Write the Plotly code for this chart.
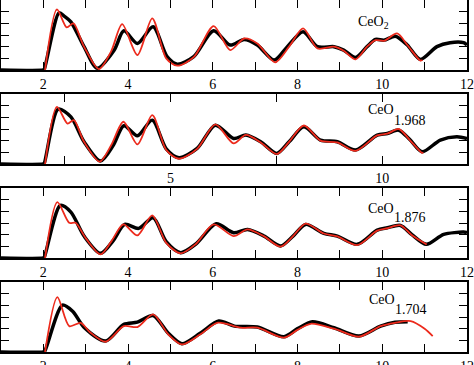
import plotly.graph_objects as go

# ---- data ----
p1_black_x = [1.0, 2.0, 2.02, 2.37, 2.5, 2.65, 2.96, 3.27, 3.67, 3.90, 4.22, 4.59, 4.92, 5.16, 5.55, 6.02, 6.41, 6.74, 7.05, 7.45, 7.76, 8.13, 8.47, 8.86, 9.09, 9.37, 9.64, 9.84, 10.04, 10.31, 10.59, 10.90, 11.29, 11.6, 11.92, 12.0]
p1_black_y = [0, 0, 0.05, 4.9, 4.6, 4.13, 2.0, 0.15, 1.7, 3.36, 2.28, 3.7, 1.14, 0.49, 1.14, 3.36, 2.14, 2.62, 2.14, 0.85, 2.0, 3.28, 2.0, 2.0, 1.71, 1.08, 2.0, 2.62, 2.56, 2.9, 2.14, 0.91, 2.0, 2.34, 2.34, 2.14]
p1_red_x = [2.04, 2.32, 2.55, 2.71, 2.96, 3.31, 3.6, 3.86, 4.22, 4.57, 4.9, 5.16, 5.55, 6.02, 6.41, 6.74, 7.05, 7.47, 7.8, 8.13, 8.47, 8.86, 9.09, 9.37, 9.64, 9.84, 10.04, 10.35, 10.6, 10.9, 10.95]
p1_red_y = [0, 5.2, 3.65, 3.99, 2.0, 0.08, 1.6, 3.93, 1.28, 4.42, 1.0, 0.37, 1.1, 3.76, 1.71, 2.7, 2.28, 0.66, 2.0, 3.56, 1.85, 2.0, 1.65, 0.91, 2.0, 2.56, 2.5, 3.13, 2.1, 0.8, 0.85]

p2_black_x = [1.0, 2.0, 2.02, 2.35, 2.65, 2.96, 3.35, 3.65, 3.90, 4.22, 4.57, 4.9, 5.20, 5.63, 6.06, 6.49, 6.78, 7.13, 7.51, 7.8, 8.15, 8.54, 8.94, 9.37, 9.88, 10.12, 10.39, 10.65, 10.94, 11.37, 11.76, 12.0]
p2_black_y = [0, 0, 0.05, 4.7, 4.04, 1.91, 0.26, 1.6, 3.28, 2.42, 3.76, 1.3, 0.54, 1.34, 3.33, 2.19, 2.48, 1.91, 0.91, 1.9, 3.19, 2.05, 1.91, 1.2, 2.48, 2.62, 2.9, 2.1, 1.05, 2.05, 2.33, 2.19]
p2_red_x = [2.04, 2.32, 2.57, 2.72, 2.96, 3.33, 3.6, 3.89, 4.22, 4.57, 4.9, 5.2, 5.63, 6.06, 6.49, 6.78, 7.13, 7.51, 7.8, 8.15, 8.54, 8.94, 9.37, 9.88, 10.12, 10.39, 10.65, 10.94, 10.97]
p2_red_y = [0, 4.9, 3.47, 3.76, 1.9, 0.2, 1.6, 3.62, 1.68, 4.19, 1.2, 0.45, 1.3, 3.39, 1.77, 2.5, 1.85, 0.85, 1.9, 3.3, 2.0, 1.85, 1.12, 2.45, 2.6, 3.0, 2.05, 0.95, 1.0]

p3_black_x = [1.0, 2.0, 2.02, 2.40, 2.65, 2.96, 3.35, 3.65, 3.92, 4.25, 4.59, 4.9, 5.24, 5.6, 6.08, 6.49, 6.82, 7.21, 7.6, 7.9, 8.19, 8.62, 8.94, 9.41, 9.88, 10.12, 10.43, 10.7, 11.04, 11.45, 11.92, 12.0]
p3_black_y = [0, 0, 0.05, 4.5, 3.93, 1.88, 0.4, 1.5, 2.88, 2.54, 3.45, 1.4, 0.46, 1.2, 2.93, 2.17, 2.45, 1.88, 1.03, 1.9, 2.88, 2.11, 1.88, 1.17, 2.39, 2.59, 2.79, 2.0, 1.17, 2.02, 2.22, 2.17]
p3_red_x = [2.04, 2.33, 2.61, 2.76, 3.0, 3.35, 3.6, 3.89, 4.22, 4.57, 4.9, 5.24, 5.6, 6.02, 6.49, 6.82, 7.21, 7.6, 7.9, 8.19, 8.62, 8.94, 9.41, 9.88, 10.12, 10.43, 10.7, 11.05]
p3_red_y = [0, 4.79, 3.02, 3.02, 1.7, 0.31, 1.4, 2.88, 1.94, 3.65, 1.3, 0.4, 1.2, 2.88, 1.88, 2.45, 1.85, 0.97, 1.9, 2.95, 2.1, 1.85, 1.1, 2.35, 2.55, 2.8, 1.95, 1.15]

p4_black_x = [1.0, 2.0, 2.03, 2.45, 2.69, 2.97, 3.47, 3.9, 4.22, 4.59, 4.95, 5.27, 5.7, 6.14, 6.51, 7.05, 7.68, 8.0, 8.35, 8.86, 9.45, 9.96, 10.3, 10.6]
p4_black_y = [0, 0, 0.05, 4.02, 3.5, 2.08, 0.94, 2.37, 2.56, 3.13, 1.6, 0.71, 1.6, 2.65, 2.22, 2.14, 1.31, 2.0, 2.59, 2.08, 1.37, 2.22, 2.55, 2.6]
p4_red_x = [2.04, 2.33, 2.61, 2.88, 3.1, 3.47, 3.9, 4.22, 4.59, 4.95, 5.27, 5.7, 6.12, 6.65, 7.05, 7.68, 8.0, 8.31, 8.86, 9.45, 9.96, 10.3, 10.67, 11.0, 11.19]
p4_red_y = [0, 4.7, 2.22, 2.5, 1.7, 0.88, 2.22, 2.14, 3.22, 1.5, 0.65, 1.5, 2.51, 2.08, 2.08, 1.23, 1.9, 2.42, 2.0, 1.31, 2.22, 2.5, 2.65, 2.0, 1.37]

labels_main = ["CeO<sub>2</sub>", "CeO", "CeO", "CeO"]
labels_sub = [None, "1.968", "1.876", "1.704"]

panels = [
    (p1_black_x, p1_black_y, p1_red_x, p1_red_y),
    (p2_black_x, p2_black_y, p2_red_x, p2_red_y),
    (p3_black_x, p3_black_y, p3_red_x, p3_red_y),
    (p4_black_x, p4_black_y, p4_red_x, p4_red_y),
]

RED = "#ec2a1c"
FONT = "Liberation Serif"
H = 365
T, B = 0, 13
PH = H - T - B  # 352
tops = [0, 94, 188, 282]
ph = 70

fig = go.Figure()
layout = dict(
    template="none",
    width=474, height=H,
    margin=dict(l=1, r=7, t=T, b=B, pad=0),
    paper_bgcolor="white", plot_bgcolor="white",
    showlegend=False,
    font=dict(family=FONT, size=14, color="black"),
)

annotations = []
for i, (bx, by, rx, ry) in enumerate(panels):
    n = i + 1
    xa = "x" if n == 1 else f"x{n}"
    ya = "y" if n == 1 else f"y{n}"
    fig.add_trace(go.Scatter(x=bx, y=by, mode="lines", xaxis=xa, yaxis=ya,
                             line=dict(color="black", width=3.5, shape="spline", smoothing=0.8)))
    fig.add_trace(go.Scatter(x=rx, y=ry, mode="lines", xaxis=xa, yaxis=ya,
                             line=dict(color=RED, width=1.8, shape="spline", smoothing=0.8)))
    d_top = 1 - tops[i] / PH
    d_bot = 1 - (tops[i] + ph) / PH
    if n == 2:
        dt, mdt = 5, 2.5
    else:
        dt, mdt = 2, 1
    xkey = "xaxis" if n == 1 else f"xaxis{n}"
    ykey = "yaxis" if n == 1 else f"yaxis{n}"
    layout[xkey] = dict(
        domain=[0, 1], anchor=ya, range=[1, 12], tick0=0, dtick=dt,
        ticks="inside", ticklen=8, tickwidth=1, tickcolor="black",
        minor=dict(tick0=0, dtick=mdt, ticks="inside", ticklen=8, tickwidth=1, tickcolor="black", showgrid=False),
        showline=True, linecolor="black", linewidth=1.5, mirror="allticks",
        showgrid=False, zeroline=False, automargin=False,
        ticklabeloverflow="allow",
        tickfont=dict(family=FONT, size=14, color="black"),
    )
    layout[ykey] = dict(
        domain=[d_bot, d_top], anchor=xa, range=[0, 6], tick0=0, dtick=1,
        ticks="inside", ticklen=8, tickwidth=1, tickcolor="black",
        showticklabels=False, automargin=False,
        showline=True, linecolor="black", linewidth=1.5, mirror="allticks",
        showgrid=False, zeroline=False,
    )

label_pos = [(9.38, 4.11, None, None), (9.62, 4.63, 10.23, 3.77),
             (9.62, 4.28, 10.23, 3.51), (9.64, 4.46, 10.25, 3.68)]
for i, (lx, ly, sx, sy) in enumerate(label_pos):
    n = i + 1
    xa = "x" if n == 1 else f"x{n}"
    ya = "y" if n == 1 else f"y{n}"
    annotations.append(dict(x=lx, y=ly, xref=xa, yref=ya, text=labels_main[i],
                            showarrow=False, xanchor="left", yanchor="middle",
                            font=dict(family=FONT, size=14, color="black")))
    if labels_sub[i]:
        annotations.append(dict(x=sx, y=sy, xref=xa, yref=ya, text=labels_sub[i],
                                showarrow=False, xanchor="left", yanchor="middle",
                                font=dict(family=FONT, size=14, color="black")))
layout["annotations"] = annotations
fig.update_layout(**layout)
fig.write_html("out.html", config={"displayModeBar": False},
               post_script="document.body.style.margin='0';")
